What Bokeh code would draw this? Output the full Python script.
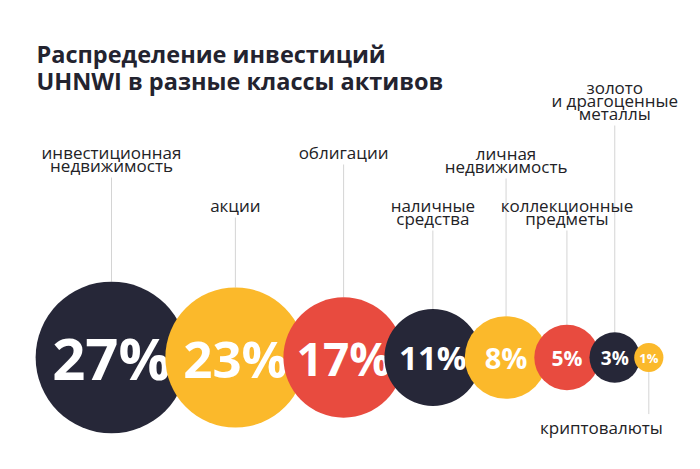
import math
from bokeh.plotting import figure
from bokeh.models import Range1d, ColumnDataSource, CDSView, IndexFilter
from bokeh.core.properties import value
from bokeh.embed import file_html
from bokeh.resources import INLINE

# ---- data ----
categories = ["инвестиционная\nнедвижимость", "акции", "облигации", "наличные\nсредства",
              "личная\nнедвижимость", "коллекционные\nпредметы",
              "золото\nи драгоценные\nметаллы", "криптовалюты"]
values = [27, 23, 17, 11, 8, 5, 3, 1]
title_lines = ["Распределение инвестиций", "UHNWI в разные классы активов"]

# ---- layout / style ----
W, H = 684, 453
NAVY, YELLOW, RED = "#262738", "#FBB92B", "#E84B3F"
colors = [NAVY, YELLOW, RED, NAVY, YELLOW, RED, NAVY, YELLOW]
pct_sizes = [58, 51, 46, 33, 29, 21, 19, 13]
label_top = [152, 205, 152, 205, 153, 205, 87, None]   # first line centre (None = below)
k = 14.6          # px per sqrt(percent)
overlap_frac = 0.4
x0, cy = 111, 357
line_gap = 13
FONT = "Open Sans"

radii = [k * math.sqrt(v) for v in values]
xs = [x0]
for i in range(1, len(values)):
    ov = min(22, overlap_frac * min(radii[i - 1], radii[i]))
    xs.append(xs[-1] + radii[i - 1] + radii[i] - ov)

p = figure(width=W, height=H, x_range=Range1d(0, W), y_range=Range1d(H, 0),
           output_backend="svg", toolbar_location=None, min_border=0)
p.axis.visible = False
p.grid.visible = False
p.outline_line_color = None
p.background_fill_color = "white"
p.border_fill_color = "white"

# leader lines and labels
lx0, ly0, lx1, ly1 = [], [], [], []
tx, ty, tt, ta = [], [], [], []
for i, cat in enumerate(categories):
    lines = cat.split("\n")
    top = cy - radii[i]
    if label_top[i] is not None:
        for j, ln in enumerate(lines):
            tx.append(xs[i]); ty.append(label_top[i] + j * line_gap); tt.append(ln); ta.append("center")
        start = label_top[i] + (len(lines) - 1) * line_gap + 12
        lx0.append(xs[i]); lx1.append(xs[i]); ly0.append(start); ly1.append(top)
    else:
        bottom = cy + radii[i]
        lx0.append(xs[i]); lx1.append(xs[i]); ly0.append(bottom); ly1.append(bottom + 42)
        tx.append(xs[i] + 14); ty.append(bottom + 55); tt.append(lines[0]); ta.append("right")

p.segment(x0=lx0, y0=ly0, x1=lx1, y1=ly1, line_color="#d4d4d4", line_width=1)

src = ColumnDataSource(dict(x=xs, y=[cy] * len(xs), r=radii, c=colors,
                            t=[f"{v}%" for v in values], fs=[f"{s}px" for s in pct_sizes]))
# draw each bubble then its number, so the next bubble overlaps the previous text
for i in range(len(values)):
    view = CDSView(filter=IndexFilter([i]))
    p.circle(x="x", y="y", radius="r", fill_color="c", line_color=None, source=src, view=view)
    p.text(x="x", y="y", text="t", text_font_size="fs", text_font=value(FONT),
           text_font_style="bold", text_color="white", text_align="center",
           text_baseline="middle", source=src, view=view)

lsrc = ColumnDataSource(dict(x=tx, y=ty, t=tt, a=ta))
p.text(x="x", y="y", text="t", text_align="a", text_baseline="middle",
       text_font=value(FONT), text_font_size="17px", text_color="#222226", source=lsrc)

p.text(x=[36, 36], y=[53, 80], text=title_lines, text_font=value(FONT),
       text_font_style="bold", text_font_size="23.5px", text_color="#23232f",
       text_baseline="alphabetic", text_align="left")

open("out.html", "w").write(file_html(p, INLINE))
